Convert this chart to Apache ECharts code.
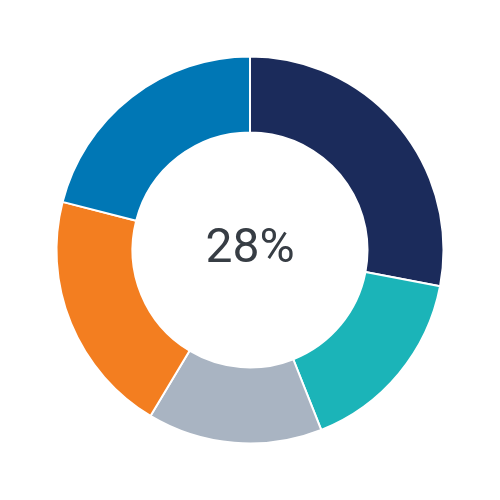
<!DOCTYPE html>
<html><head><meta charset="utf-8">
<script src="https://cdn.jsdelivr.net/npm/echarts@6/dist/echarts.min.js"></script>
<style>html,body{margin:0;padding:0;background:#fff}#c{width:500px;height:500px}</style>
</head><body><div id="c"></div>
<script>
const categories = ['A','B','C','D','E'];
const values = [28, 16, 14.6, 20.4, 21];
const colors = ['#1b2b5b','#1bb4b8','#a9b4c2','#f37e20','#0077b5'];
const centerLabel = '28%';
const chart = echarts.init(document.getElementById('c'));
chart.setOption({
  animation:false,
  title:{text:centerLabel,left:'center',top:'center',textStyle:{fontFamily:'Roboto',fontWeight:'normal',fontSize:48,color:'#373d44'}},
  series:[{type:'pie',radius:['47%','77.4%'],center:['50%','50%'],startAngle:90,clockwise:true,
    label:{show:false},labelLine:{show:false},
    itemStyle:{borderColor:'#fff',borderWidth:2},
    data:categories.map((c,i)=>({name:c,value:values[i],itemStyle:{color:colors[i]}}))}]
});
</script></body></html>
